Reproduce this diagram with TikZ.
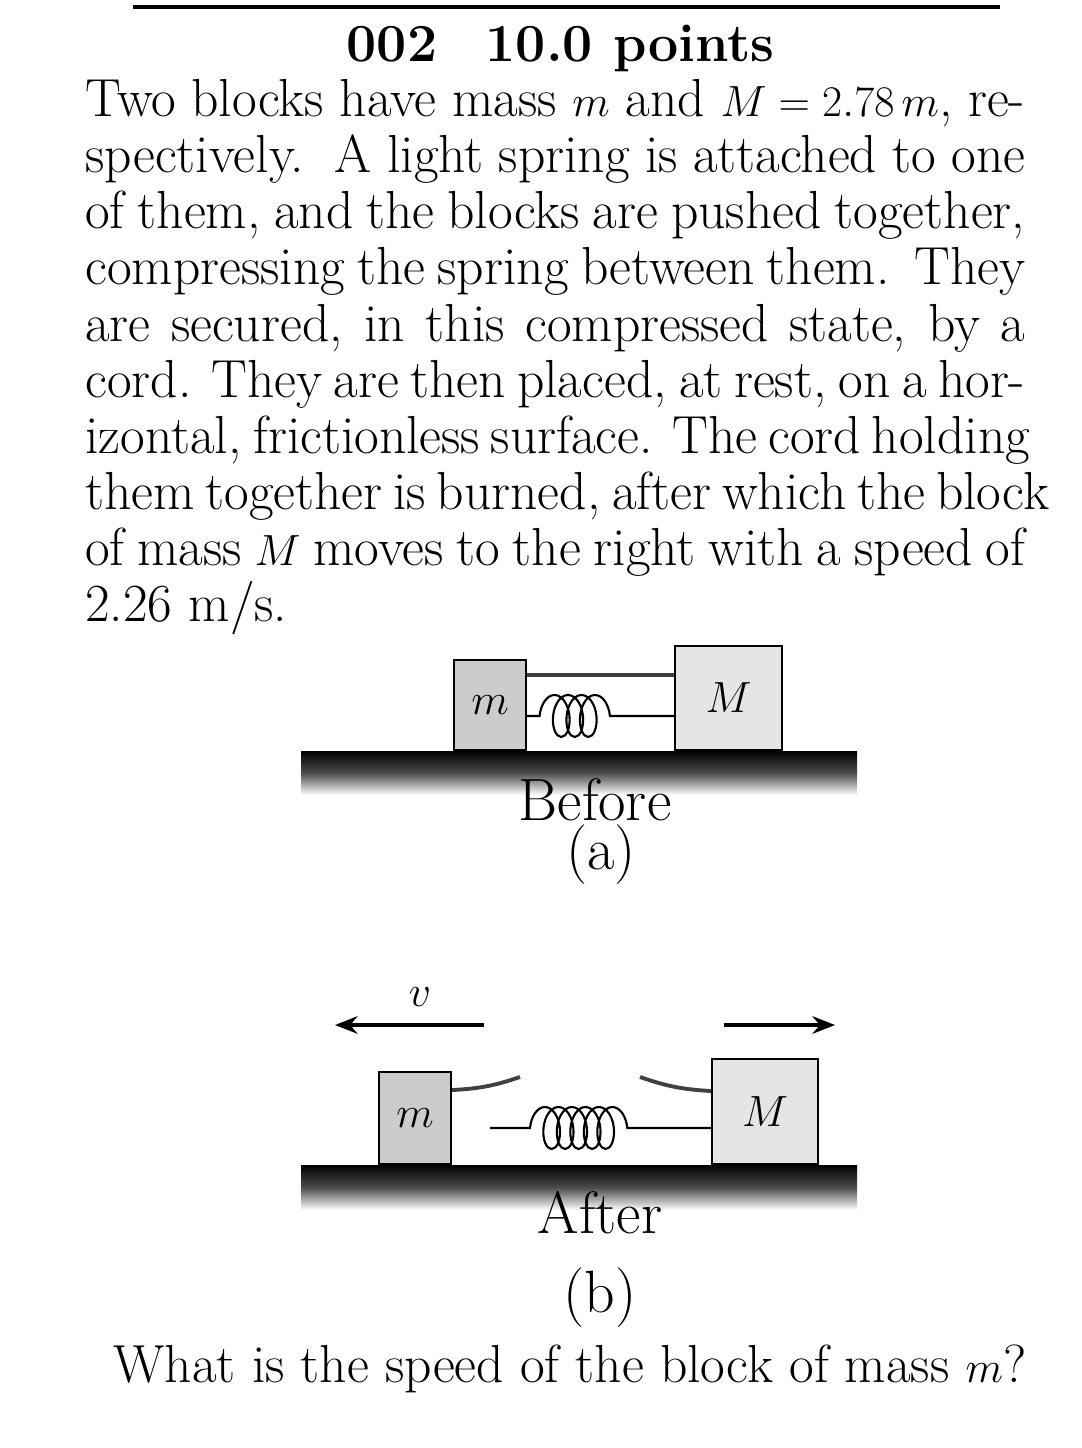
\documentclass[tikz,border=0pt]{standalone}
\usepackage{amsmath}
\usetikzlibrary{decorations.pathmorphing,arrows.meta}
\definecolor{blockm}{gray}{0.8}
\definecolor{blockM}{gray}{0.9}
\definecolor{cordgray}{gray}{0.25}

\begin{document}
\begin{tikzpicture}[x=0.02cm,y=-0.02cm,
  txt/.style={anchor=base west,inner sep=0pt,font=\fontsize{30.5}{36}\selectfont},
  block/.style={draw,line width=1.2pt,inner sep=0pt,font=\fontsize{36}{42}\selectfont},
  cord/.style={cordgray,line width=2.2pt},
  spring/.style={line width=1.2pt,decorate,decoration={coil,aspect=0.55,amplitude=0.42cm,segment length=0.27cm}},
  ground/.style={top color=black,bottom color=white,middle color=black!70},
  captxt/.style={font=\fontsize{34}{40}\selectfont,inner sep=0pt}
]
\useasboundingbox (0,0) rectangle (1082,1448);

% Rule and header
\draw[line width=2.6pt] (133,7) -- (1000,7);
\node[txt,anchor=base] (num) at (392,61) {\bfseries 002};
\node[txt,anchor=base] (pts) at (630,61) {\bfseries 10.0 points};

% Problem text
\def\W{18.8cm}
\node[txt] (l1) at (85,116) {\makebox[\W][s]{Two blocks have mass $m$ and $M = 2.78\,m$, re-}};
\node[txt] (l2) at (85,172) {\makebox[\W][s]{spectively.\ \ A light spring is attached to one}};
\node[txt] (l3) at (85,228) {\makebox[\W][s]{of them, and the blocks are pushed together,}};
\node[txt] (l4) at (85,284) {\makebox[\W][s]{compressing the spring between them.\ \ They}};
\node[txt] (l5) at (85,341) {\makebox[\W][s]{are secured, in this compressed state, by a}};
\node[txt] (l6) at (85,397) {\makebox[\W][s]{cord. They are then placed, at rest, on a hor-}};
\node[txt] (l7) at (85,453) {\makebox[\W][s]{izontal, frictionless surface. The cord holding}};
\node[txt] (l8) at (85,509) {\makebox[\W][s]{them together is burned, after which the block}};
\node[txt] (l9) at (85,565) {\makebox[\W][s]{of mass $M$ moves to the right with a speed of}};
\node[txt] (l10) at (85,621) {2.26 m/s.};

% (a) Before
\shade[ground] (301,751) rectangle (857,795);
\node[block,fill=blockm,minimum width=1.44cm,minimum height=1.8cm,anchor=south west] (ma) at (453,751) {$m$};
\node[block,fill=blockM,minimum width=2.14cm,minimum height=2.08cm,anchor=south west] (Ma) at (674,751) {$M$};
\draw[cord] (ma.east |- 0,675) -- (Ma.west |- 0,675);
\draw[spring,decoration={pre length=0.25cm,post length=1.25cm}] (ma.east |- 0,716) -- (Ma.west |- 0,716);
\node[captxt] (before) at (595,800) {Before};
\node[captxt] (capa) at (601,855) {(a)};

% (b) After
\shade[ground] (301,1165) rectangle (857,1210);
\node[block,fill=blockm,minimum width=1.44cm,minimum height=1.84cm,anchor=south west] (mb) at (378,1165) {$m$};
\node[block,fill=blockM,minimum width=2.12cm,minimum height=2.1cm,anchor=south west] (Mb) at (711,1165) {$M$};
\coordinate (send) at (490,1128);
\draw[spring,decoration={pre length=0.8cm,post length=1.45cm}] (send) -- (Mb.west |- 0,1128);
\coordinate (cl) at (520,1077);
\coordinate (cr) at (640,1077);
\draw[cord] (mb.east |- 0,1090) to[bend right=8] (cl);
\draw[cord] (cr) to[bend right=8] (Mb.west |- 0,1091);
\coordinate (al) at (484,1025);
\coordinate (ar) at (724,1025);
\draw[line width=2.2pt,-{Stealth[length=0.45cm,width=0.35cm]}] (al) -- (335,1025);
\draw[line width=2.2pt,-{Stealth[length=0.45cm,width=0.35cm]}] (ar) -- (835,1025);
\node[captxt] (vel) at (420,997) {$v$};
\node[captxt] (after) at (600,1213) {After};
\node[captxt] (capb) at (600,1298) {(b)};

% Question
\node[txt,anchor=base] (q) at (570,1382) {What is the speed of the block of mass $m$?};
\end{tikzpicture}
\end{document}
